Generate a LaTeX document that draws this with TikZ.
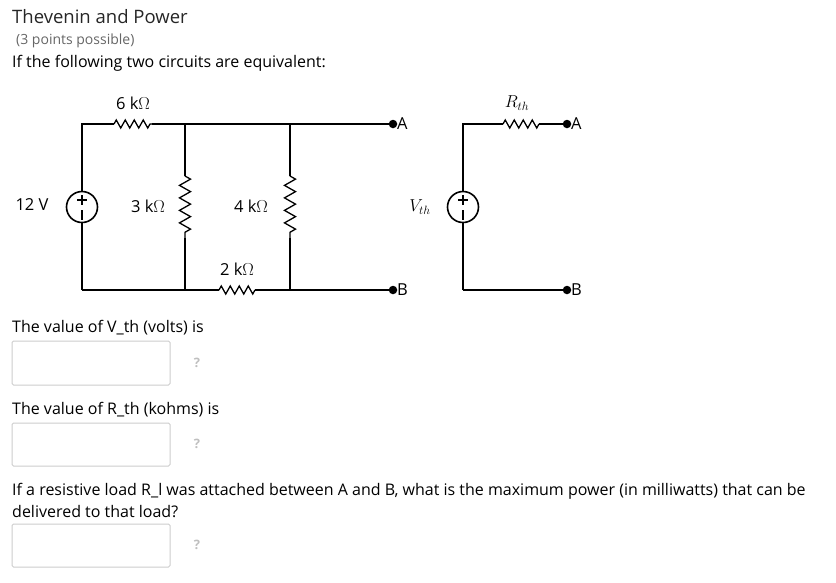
\documentclass[tikz,border=0pt]{standalone}
\usepackage{fontspec}
\setmainfont{Open Sans}
\usetikzlibrary{decorations.pathmorphing}
\begin{document}
\begin{tikzpicture}[x=1pt,y=-1pt,
  wire/.style={line width=1.6pt,black},
  res/.style={line width=1.3pt,decorate,decoration={zigzag,segment length=9pt,amplitude=4pt}},
  vres/.style={line width=1.3pt,decorate,decoration={zigzag,segment length=12.5pt,amplitude=5.5pt}},
  src/.style={circle,draw,line width=1.6pt,minimum size=31pt,inner sep=0pt,fill=white},
  dotn/.style={circle,fill,inner sep=0pt,minimum size=8.5pt},
  txt/.style={anchor=west,inner sep=0pt,font=\fontsize{16}{19}\selectfont},
  lbl/.style={inner sep=0pt,font=\fontsize{16.5}{19}\selectfont},
  ans/.style={draw=black!20,line width=1pt,rounded corners=1.5pt},
  qm/.style={inner sep=0pt,text=black!25,font=\fontsize{13}{14}\selectfont\bfseries}]
\useasboundingbox (0,0) rectangle (836,582);
\node[txt,font=\fontsize{18.5}{22}\selectfont,text=black!85] (t) at (12,17) {Thevenin and Power};
\node[txt,text=black!60,font=\fontsize{14}{16}\selectfont] (p) at (16,41) {(3 points possible)};
\node[txt] (q) at (12,63) {If the following two circuits are equivalent:};
% left circuit
\coordinate (tl) at (82,124); \coordinate (bl) at (82,290);
\coordinate (r1a) at (114,124); \coordinate (r1b) at (152,124);
\coordinate (t3) at (185,124); \coordinate (t4) at (290,124);
\coordinate (b3) at (185,290); \coordinate (b4) at (290,290);
\node[dotn] (A) at (393,124) {}; \node[dotn] (B) at (393,290) {};
\draw[wire] (bl) -- (tl) -- (r1a);
\draw[res] (r1a) -- (r1b);
\draw[wire] (r1b) -- (A);
\draw[wire] (t3) -- (185,176); \draw[vres] (185,176) -- (185,238); \draw[wire] (185,238) -- (b3);
\draw[wire] (t4) -- (290,176); \draw[vres] (290,176) -- (290,238); \draw[wire] (290,238) -- (b4);
\draw[wire] (bl) -- (b3) -- (219,290);
\draw[res] (219,290) -- (255,290);
\draw[wire] (255,290) -- (b4) -- (B);
\node[src] (S1) at (82,207) {};
\draw[line width=1.5pt] (77,200) -- (87,200) (82,195) -- (82,205);
\draw[line width=1.5pt] (82,210) -- (82,220);
\node[lbl] (l12) at (32,205) {12 V};
\node[lbl] (l6) at (133,103) {6 k$\Omega$};
\node[lbl] (l3) at (148,206) {3 k$\Omega$};
\node[lbl] (l4) at (251,206) {4 k$\Omega$};
\node[lbl] (l2) at (237,269) {2 k$\Omega$};
\node[lbl,anchor=west] (la) at (397,124) {A};
\node[lbl,anchor=west] (lb) at (397,290) {B};
% right circuit
\node[dotn] (A2) at (567,124) {}; \node[dotn] (B2) at (567,290) {};
\draw[wire] (463,290) -- (463,124) -- (503,124);
\draw[res] (503,124) -- (539,124);
\draw[wire] (539,124) -- (A2);
\draw[wire] (463,290) -- (B2);
\node[src] (S2) at (463,207) {};
\draw[line width=1.5pt] (458,200) -- (468,200) (463,195) -- (463,205);
\draw[line width=1.5pt] (463,210) -- (463,220);
\node[lbl] (vth) at (420,207) {$V_{th}$};
\node[lbl] (rth) at (517,103) {$R_{th}$};
\node[lbl,anchor=west] (la2) at (571,124) {A};
\node[lbl,anchor=west] (lb2) at (571,290) {B};
% questions
\node[txt] (q1) at (12,328) {The value of V\_th (volts) is};
\draw[ans] (12,341) rectangle (170,385); \node[qm] (m1) at (197,363) {?};
\node[txt] (q2) at (12,410) {The value of R\_th (kohms) is};
\draw[ans] (12,423) rectangle (170,466); \node[qm] (m2) at (197,444) {?};
\node[txt] (q3) at (12,491) {If a resistive load R\_l was attached between A and B, what is the maximum power (in milliwatts) that can be};
\node[txt] (q3b) at (12,512) {delivered to that load?};
\draw[ans] (12,524) rectangle (170,567); \node[qm] (m3) at (197,545) {?};
\end{tikzpicture}
\end{document}
